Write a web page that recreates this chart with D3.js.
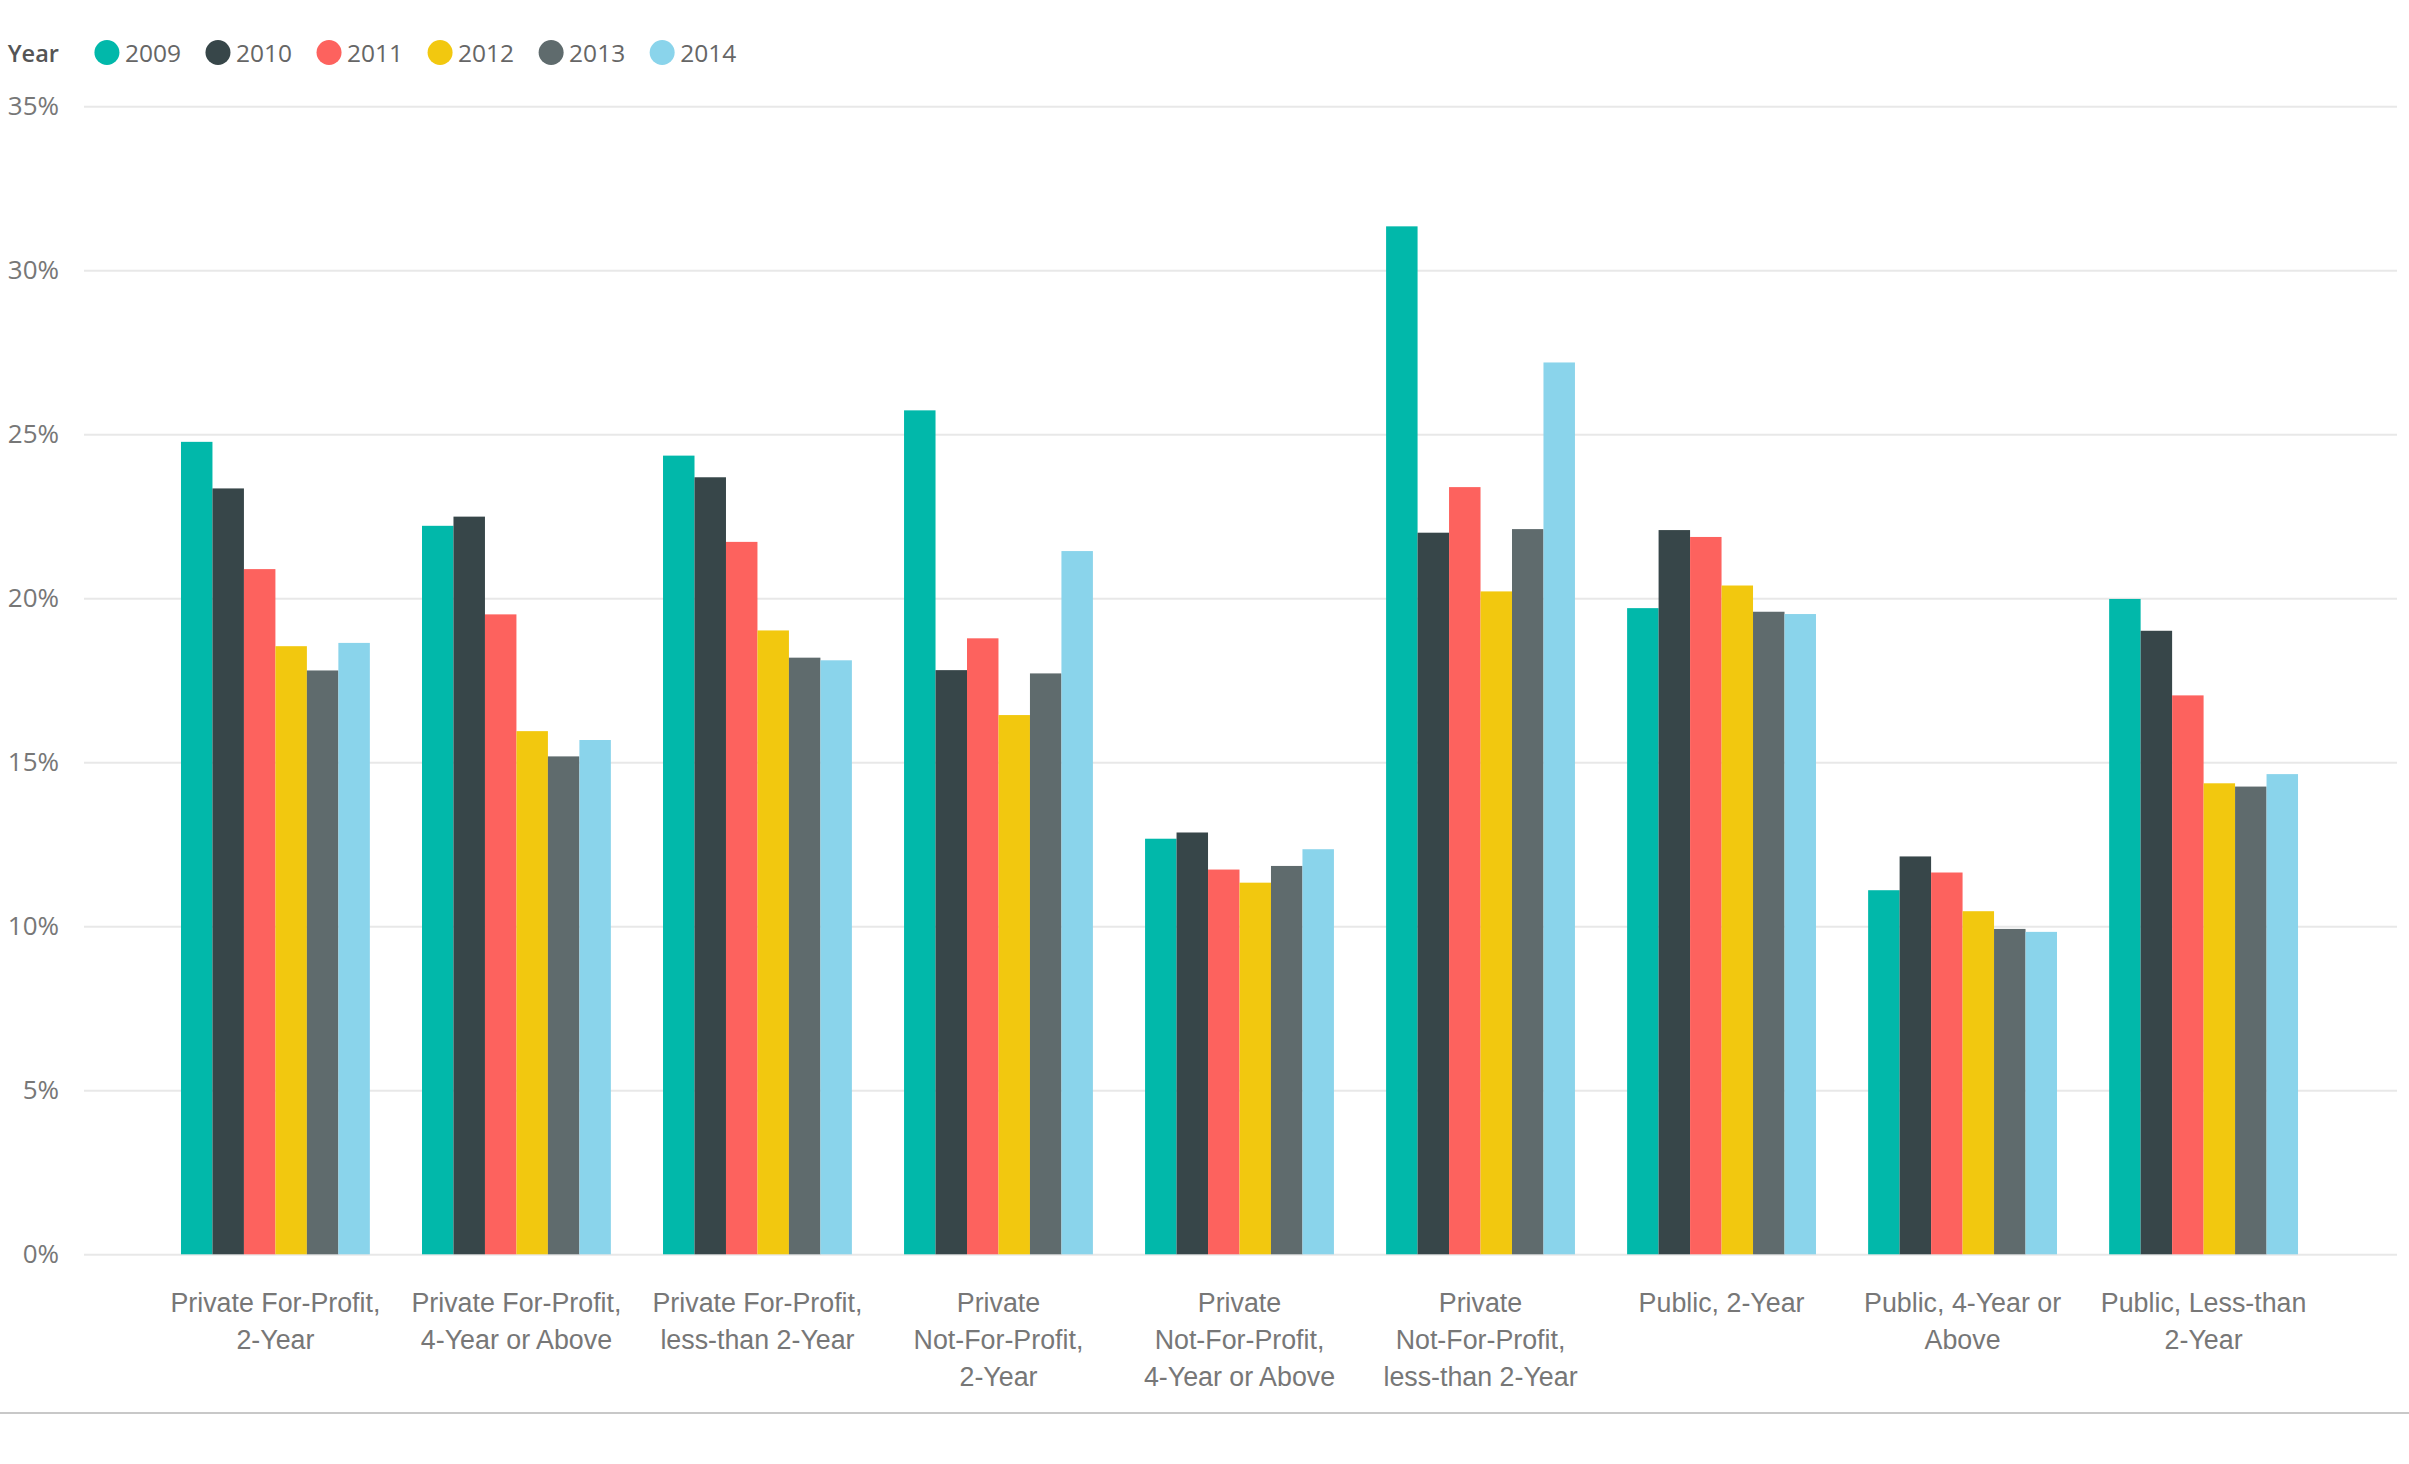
<!DOCTYPE html>
<html>
<head>
<meta charset="utf-8">
<script src="https://cdn.jsdelivr.net/npm/d3@7"></script>
<style>
  html, body { margin: 0; padding: 0; background: #fff; }
  svg { display: block; font-family: "Segoe UI", "Open Sans", sans-serif; }
</style>
</head>
<body>
<svg id="chart" width="2409" height="1464"></svg>
<script>
// ---- data ----
const categories = [
  "Private For-Profit, 2-Year",
  "Private For-Profit, 4-Year or Above",
  "Private For-Profit, less-than 2-Year",
  "Private Not-For-Profit, 2-Year",
  "Private Not-For-Profit, 4-Year or Above",
  "Private Not-For-Profit, less-than 2-Year",
  "Public, 2-Year",
  "Public, 4-Year or Above",
  "Public, Less-than 2-Year"
];
const categoryLabelLines = [
  ["Private For-Profit,", "2-Year"],
  ["Private For-Profit,", "4-Year or Above"],
  ["Private For-Profit,", "less-than 2-Year"],
  ["Private", "Not-For-Profit,", "2-Year"],
  ["Private", "Not-For-Profit,", "4-Year or Above"],
  ["Private", "Not-For-Profit,", "less-than 2-Year"],
  ["Public, 2-Year"],
  ["Public, 4-Year or", "Above"],
  ["Public, Less-than", "2-Year"]
];
const years = ["2009", "2010", "2011", "2012", "2013", "2014"];
const yearColors = ["#01B8AA", "#374649", "#FD625E", "#F2C80F", "#5F6B6D", "#8AD4EB"];
// percentages per year, in category order
const values2009 = [24.77, 22.21, 24.35, 25.73, 12.67, 31.34, 19.70, 11.10, 19.98];
const values2010 = [23.35, 22.49, 23.69, 17.81, 12.86, 22.00, 22.08, 12.13, 19.01];
const values2011 = [20.89, 19.51, 21.72, 18.78, 11.73, 23.39, 21.87, 11.64, 17.04];
const values2012 = [18.54, 15.95, 19.02, 16.44, 11.33, 20.21, 20.39, 10.46, 14.36];
const values2013 = [17.80, 15.18, 18.19, 17.71, 11.84, 22.11, 19.59, 9.92, 14.26];
const values2014 = [18.64, 15.68, 18.11, 21.44, 12.35, 27.19, 19.52, 9.83, 14.64];
const yTicks = [0, 0.05, 0.10, 0.15, 0.20, 0.25, 0.30, 0.35];
const legendTitle = "Year";

const seriesValues = [values2009, values2010, values2011, values2012, values2013, values2014];
const rows = categories.map((c, i) => ({
  category: c,
  vals: years.map((y, j) => ({ year: y, value: seriesValues[j][i] / 100 }))
}));

// ---- layout ----
const svg = d3.select("#chart");
const gridLeft = 84, gridRight = 2397;
const yBottom = 1254.3, yTop = 106.3;

const x = d3.scaleBand().domain(categories).range([154.9, 2324.1])
  .paddingInner(0.2164).paddingOuter(0.1082);
const xInner = d3.scaleBand().domain(years).range([0, x.bandwidth()]).padding(0);
const y = d3.scaleLinear().domain([0, 0.35]).range([yBottom, yTop]);
const color = d3.scaleOrdinal().domain(years).range(yearColors);

// y axis + gridlines
const yAxis = d3.axisLeft(y).tickValues(yTicks).tickFormat(d3.format(".0%"))
  .tickSize(-(gridRight - gridLeft)).tickPadding(25);
const gy = svg.append("g").attr("transform", `translate(${gridLeft},0)`).call(yAxis);
gy.select(".domain").remove();
gy.selectAll(".tick line").attr("stroke", "#e8e8e8").attr("stroke-width", 2);
gy.selectAll(".tick text").attr("fill", "#777").attr("font-size", 26)
  .attr("font-family", "'Segoe UI', 'Open Sans', sans-serif");

// bars
const groups = svg.append("g").selectAll("g").data(rows).join("g")
  .attr("transform", d => `translate(${x(d.category)},0)`);
groups.selectAll("rect").data(d => d.vals).join("rect")
  .attr("x", d => xInner(d.year))
  .attr("width", xInner.bandwidth())
  .attr("y", d => y(d.value))
  .attr("height", d => y(0) - y(d.value))
  .attr("fill", d => color(d.year));

// x axis labels
const xAxis = d3.axisBottom(x).tickSize(0).tickFormat("");
const gx = svg.append("g").attr("transform", `translate(0,${yBottom})`).call(xAxis);
gx.select(".domain").remove();
gx.selectAll(".tick").each(function (d, i) {
  const t = d3.select(this).append("text")
    .attr("fill", "#777").attr("font-size", 26.8).attr("text-anchor", "middle");
  categoryLabelLines[i].forEach((line, k) => {
    t.append("tspan").attr("x", 0).attr("y", 58 + k * 36.7).text(line);
  });
});

// legend
const legend = svg.append("g");
const legendY = 52.5;
const titleText = legend.append("text").attr("x", 7.7).attr("y", legendY)
  .attr("dominant-baseline", "central").attr("font-size", 23.5).attr("font-weight", 600)
  .attr("fill", "#555").text(legendTitle);
let cx = 7.7 + titleText.node().getComputedTextLength() + 48;
years.forEach(yr => {
  legend.append("circle").attr("cx", cx).attr("cy", legendY).attr("r", 12.5).attr("fill", color(yr));
  const tt = legend.append("text").attr("x", cx + 18).attr("y", legendY)
    .attr("dominant-baseline", "central").attr("font-size", 24.5).attr("fill", "#666").text(yr);
  cx = cx + 18 + tt.node().getComputedTextLength() + 37;
});

// bottom separator
svg.append("line").attr("x1", 0).attr("x2", 2409).attr("y1", 1413).attr("y2", 1413)
  .attr("stroke", "#c8c8c8").attr("stroke-width", 2);
</script>
</body>
</html>
